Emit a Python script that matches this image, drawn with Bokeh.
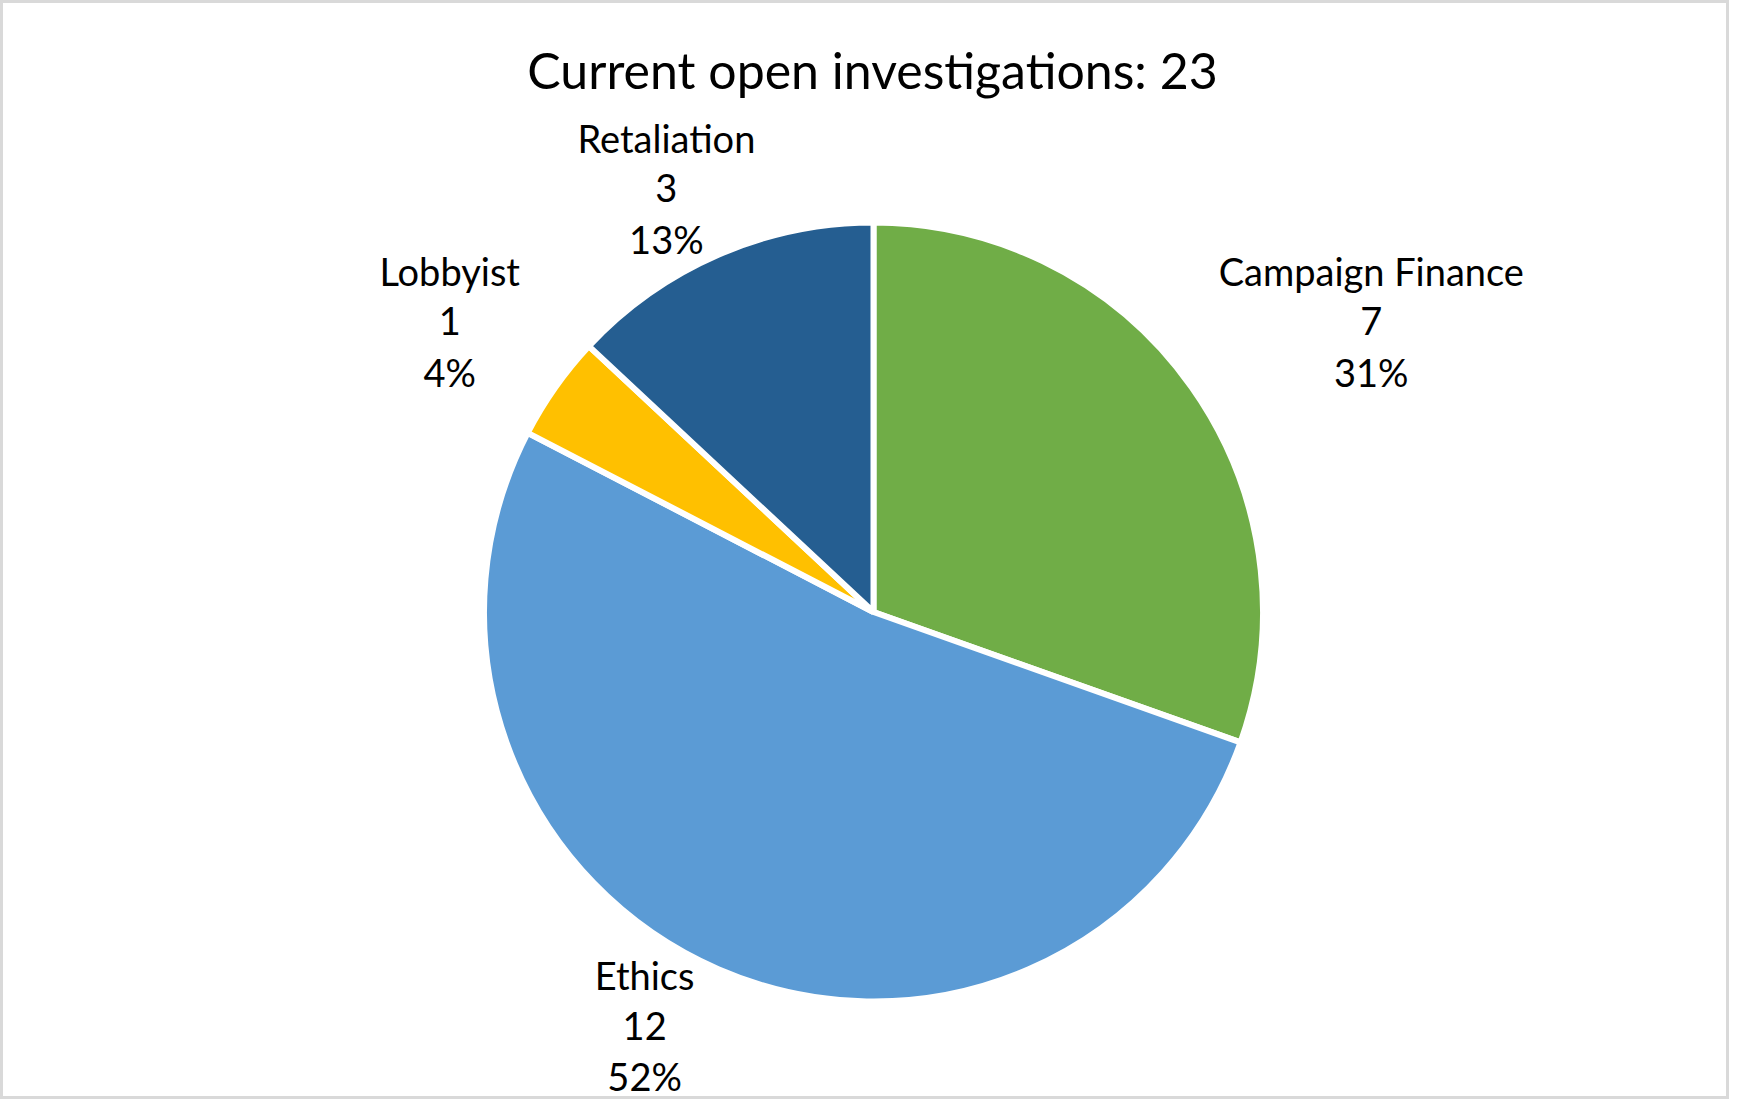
import math
from bokeh.plotting import figure
from bokeh.models import ColumnDataSource, Range1d
from bokeh.core.properties import value
from bokeh.embed import file_html
from bokeh.resources import INLINE

# ---- data ----
categories = ["Campaign Finance", "Ethics", "Lobbyist", "Retaliation"]
counts = [7, 12, 1, 3]
pct_labels = ["31%", "52%", "4%", "13%"]
colors = ["#70AD47", "#5B9BD5", "#FFC000", "#255E91"]
title_text = "Current open investigations: 23"

# ---- layout (data units = pixels, y up) ----
W, H = 1729, 1099
CX, CY = 873, H - 611.5      # pie centre
RADIUS = 389.5
FONT = "Lato"
LABEL_FS = 38
TITLE_FS = 50
LINE_STEP = 50.5
CHAR_W = 18.5
PAD_X = 23
HALF_V = 60
LABEL_GAP_R = 400
label_nudge = {"Retaliation": (77, -3), "Ethics": (9, 13)}

total = sum(counts)
starts, ends, mids = [], [], []
acc = 0.0
for c in counts:
    a0 = acc / total
    acc += c
    a1 = acc / total
    starts.append(math.pi / 2 - 2 * math.pi * a0)
    ends.append(math.pi / 2 - 2 * math.pi * a1)
    mids.append(2 * math.pi * (a0 + a1) / 2)   # clockwise from 12 o'clock

p = figure(width=W, height=H, x_range=Range1d(0, W), y_range=Range1d(0, H),
           x_axis_type=None, y_axis_type=None, toolbar_location=None,
           output_backend="svg", min_border=0, background_fill_color="white",
           border_fill_color="white")
p.grid.visible = False
p.outline_line_color = "#D9D9D9"
p.outline_line_width = 5

src = ColumnDataSource(dict(x=[CX] * len(counts), y=[CY] * len(counts),
                            start=starts, end=ends, color=colors, cat=categories))
p.wedge(x="x", y="y", radius=RADIUS, start_angle="start", end_angle="end",
        direction="clock", fill_color="color", line_color="white", line_width=6,
        source=src)

# data labels (name / value / percent), placed outside each slice
tx, ty, tt = [], [], []
for cat, cnt, pct, m in zip(categories, counts, pct_labels, mids):
    sx, sy = math.sin(m), math.cos(m)
    lines = [cat, str(cnt), pct]
    w = max(len(s) for s in lines) * CHAR_W
    lx = CX + sx * LABEL_GAP_R + math.copysign(w / 2 + PAD_X, sx)
    ly = CY + sy * LABEL_GAP_R + math.copysign(HALF_V, sy)
    dx, dy = label_nudge.get(cat, (0, 0))
    lx += dx
    ly += dy
    for i, s in enumerate(lines):
        tx.append(lx)
        ty.append(ly + (1 - i) * LINE_STEP)
        tt.append(s)

p.text(x=tx, y=ty, text=tt, text_align="center", text_baseline="middle",
       text_font=value(FONT), text_font_size=f"{LABEL_FS}px", text_color="#000000")

p.text(x=[872], y=[H - 69], text=[title_text], text_align="center",
       text_baseline="middle", text_font=value(FONT),
       text_font_size=f"{TITLE_FS}px", text_color="#000000")

open("out.html", "w").write(file_html(p, INLINE))
